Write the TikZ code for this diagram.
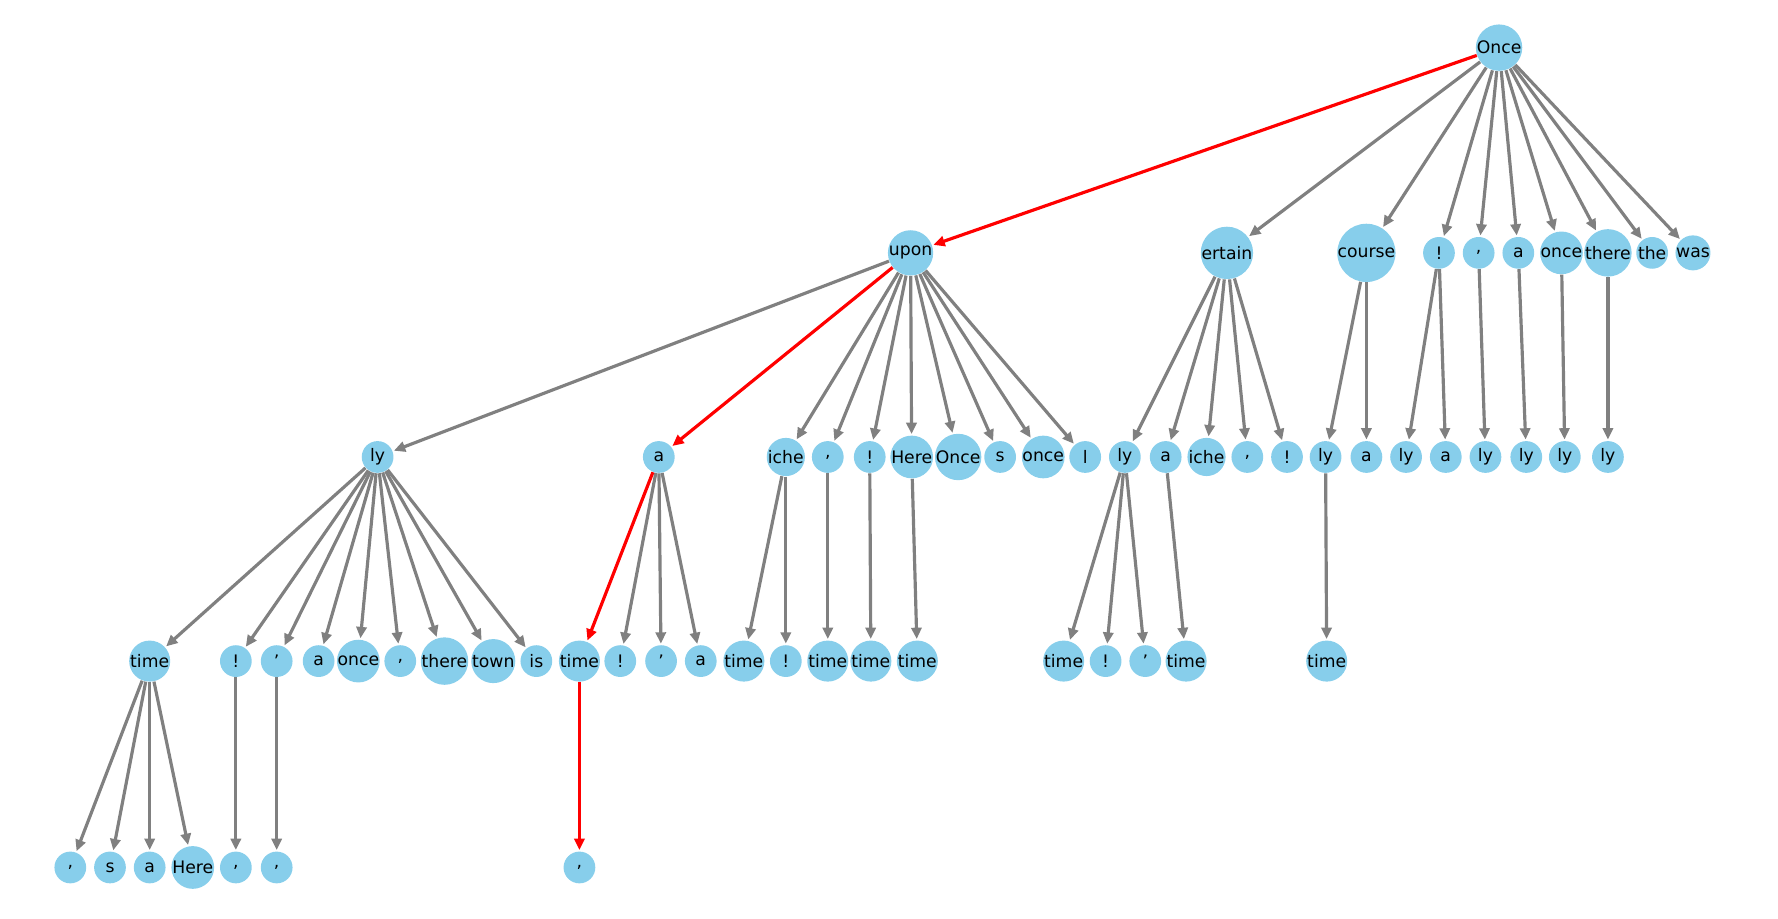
\documentclass[tikz,border=0pt]{standalone}
\usepackage{fontspec}
\setmainfont{DejaVu Sans}
\usetikzlibrary{arrows.meta}
\begin{document}
\begin{tikzpicture}[x=0.5pt,y=-0.5pt,
  nd/.style={circle,fill=cyan!40!blue!25!white,fill=nodeblue,minimum size=14pt,inner sep=0pt,font=\fontsize{7.6}{8}\selectfont},
  ed/.style={draw=gray,line width=1.4pt,-{Triangle[length=5pt,width=4.5pt]},shorten >=0.5pt},
  rd/.style={ed,draw=red}]
\definecolor{nodeblue}{HTML}{87CEEB}
\useasboundingbox (0,0) rectangle (1568,810);
\def\A{42}\def\B{223}\def\C{403}\def\D{583}\def\E{765}
\node[nd] (r) at (1322,\A) {Once};
\foreach \n/\x/\t in {u/803/upon,e/1082/ertain,c/1205/course,x1/1269/!,x2/1304/{,},x3/1339/a,x4/1377/once,x5/1418/there,x6/1457/the,x7/1493/was}
  {\node[nd] (\n) at (\x,\B) {\t};}
\foreach \n/\x/\t in {ul/333/ly,ua/581/a,ui/693/iche,uc/730/{,},ue/767/!,uh/804/Here,uo/845/Once,us/882/s,uo2/920/once,ull/957/l,
  el/992/ly,ea/1028/a,ei/1064/iche,ec/1100/{,},ee/1135/!,cl/1169/ly,ca/1205/a,xl1/1240/ly,xa1/1275/a,xl2/1310/ly,xl3/1346/ly,xl4/1380/ly,xl5/1418/ly}
  {\node[nd] (\n) at (\x,\C) {\t};}
\foreach \n/\x/\t in {lt/132/time,le/208/!,lq/244/',la/281/a,lo/316/once,lc/353/{,},lth/392/there,lto/435/town,li/473/is,
  at/511/time,ae/547/!,aq/583/',aa/618/a,it/656/time,ie/693/!,ct/730/time,et/768/time,ht/809/time,
  elt/938/time,ele/975/!,elq/1010/',eat/1046/time,clt/1170/time}
  {\node[nd] (\n) at (\x,\D) {\t};}
\foreach \n/\x/\t in {tc/62/{,},ts/97/s,ta/132/a,th/170/Here,ec1/208/{,},qc/244/{,},ac/511/{,}}
  {\node[nd] (\n) at (\x,\E) {\t};}
\foreach \a/\b in {r/e,r/c,r/x1,r/x2,r/x3,r/x4,r/x5,r/x6,r/x7,
  u/ul,u/ui,u/uc,u/ue,u/uh,u/uo,u/us,u/uo2,u/ull,
  e/el,e/ea,e/ei,e/ec,e/ee,c/cl,c/ca,x1/xl1,x1/xa1,x2/xl2,x3/xl3,x4/xl4,x5/xl5,
  ul/lt,ul/le,ul/lq,ul/la,ul/lo,ul/lc,ul/lth,ul/lto,ul/li,
  ua/ae,ua/aq,ua/aa,ui/it,ui/ie,uc/ct,ue/et,uh/ht,el/elt,el/ele,el/elq,ea/eat,cl/clt,
  lt/tc,lt/ts,lt/ta,lt/th,le/ec1,lq/qc}
  {\draw[ed] (\a) -- (\b);}
\foreach \a/\b in {r/u,u/ua,ua/at,at/ac} {\draw[rd] (\a) -- (\b);}
\end{tikzpicture}
\end{document}
